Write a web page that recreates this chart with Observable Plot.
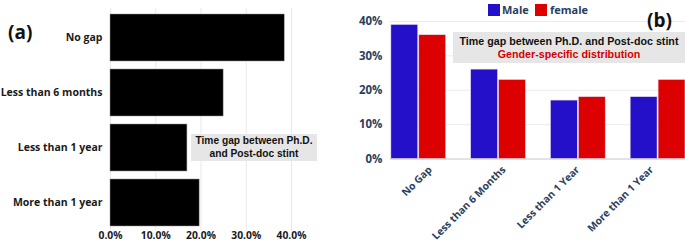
<!DOCTYPE html>
<html>
<head>
<meta charset="utf-8">
<script src="https://cdn.jsdelivr.net/npm/d3@7"></script>
<script src="https://cdn.jsdelivr.net/npm/@observablehq/plot@0.6"></script>
<style>
  html, body { margin: 0; padding: 0; background: #fff; }
  #wrap { position: relative; width: 685px; height: 241px; overflow: hidden; background: #fff; }
  .panel { position: absolute; top: 0; }
  .tag { position: absolute; font-family: "Open Sans", sans-serif; font-weight: bold; font-size: 19px; color: #111; line-height: 1; }
  .note { position: absolute; background: #e6e6e6; font-family: Arial, "Liberation Sans", sans-serif; font-weight: bold; line-height: 12.5px; text-align: center; color: #111; white-space: nowrap; }
  .leg { position: absolute; font-family: "Open Sans", sans-serif; font-weight: bold; font-size: 11px; color: #2a3f5f; line-height: 1; }
  .sw { position: absolute; width: 12px; height: 12px; }
</style>
</head>
<body>
<div id="wrap">
  <div id="left" class="panel" style="left:0"></div>
  <div id="rightBase" class="panel" style="left:340px"></div>
  <div id="rightBars" class="panel" style="left:340px; pointer-events:none"></div>
  <div class="tag" style="left:8px; top:23px">(a)</div>
  <div class="tag" style="left:647px; top:11px">(b)</div>
  <div class="note" id="noteA" style="left:191px; top:134px; width:126px; height:27px; padding-top:1px; box-sizing:border-box; font-size:10.2px"></div>
  <div class="note" id="noteB" style="left:453px; top:32px; width:232px; height:31px; padding-top:3px; box-sizing:border-box; font-size:10.7px"></div>
  <div class="sw" id="sw0" style="left:488px; top:4px"></div>
  <div class="leg" id="lg0" style="left:502px; top:4px"></div>
  <div class="sw" id="sw1" style="left:535px; top:4px"></div>
  <div class="leg" id="lg1" style="left:550px; top:4px"></div>
</div>
<script>
// ---- Panel (a) data ----
const gapCategories = ["No gap", "Less than 6 months", "Less than 1 year", "More than 1 year"];
const gapShare = [0.385, 0.25, 0.17, 0.197];
const gapTicks = [0, 0.1, 0.2, 0.3, 0.4];
const noteAText = ["Time gap between Ph.D.", "and Post-doc stint"];

// ---- Panel (b) data ----
const genderCategories = ["No Gap", "Less than 6 Months", "Less than 1 Year", "More than 1 Year"];
const genders = ["Male", "female"];
const maleShare = [0.39, 0.26, 0.17, 0.18];
const femaleShare = [0.36, 0.23, 0.18, 0.23];
const genderColors = ["#2410c8", "#dc0000"];
const genderTicks = [0, 0.1, 0.2, 0.3, 0.4];
const noteBTitle = "Time gap between Ph.D. and Post-doc stint";
const noteBSub = "Gender-specific distribution";

// ---- Panel (a) ----
const dataA = gapCategories.map((c, i) => ({cat: c, value: gapShare[i]}));
const plotA = Plot.plot({
  width: 340, height: 241,
  marginLeft: 110, marginRight: 49, marginTop: 8, marginBottom: 10,
  style: {fontFamily: "Open Sans, sans-serif", fontSize: "10.5px", fontWeight: "bold", color: "#1a1a1a", background: "transparent", overflow: "visible"},
  x: {domain: [0, 0.4], label: null},
  y: {domain: gapCategories, paddingInner: 0.15, paddingOuter: 0.075, label: null},
  marks: [
    Plot.gridX(gapTicks, {stroke: "#e9e9e9", strokeOpacity: 1}),
    Plot.barX(dataA, {x: "value", y: "cat", fill: "#000", stroke: "#999", strokeWidth: 0.5}),
    Plot.axisX(gapTicks, {tickSize: 0, tickPadding: 0, fontSize: 10.3, tickFormat: d3.format(".1%"), label: null}),
    Plot.axisY({tickSize: 0, tickPadding: 8, label: null})
  ]
});
document.getElementById("left").appendChild(plotA);

// ---- Panel (b) base: grid + axes ----
const baseB = Plot.plot({
  width: 346, height: 241,
  marginLeft: 50, marginRight: 0, marginTop: 21, marginBottom: 82,
  style: {fontFamily: "Open Sans, sans-serif", fontSize: "11.5px", fontWeight: "bold", color: "#2a3f5f", background: "transparent", overflow: "visible"},
  x: {domain: genderCategories, paddingInner: 0.3, paddingOuter: 0, label: null, axis: null},
  y: {domain: [0, 0.4], label: null},
  marks: [
    Plot.gridY(genderTicks, {stroke: "#ebebeb", strokeOpacity: 1}),
    Plot.ruleY([0], {stroke: "#d0d0d0"}),
    Plot.axisY(genderTicks, {tickSize: 0, tickPadding: 8, tickFormat: d3.format(".0%"), label: null}),
    Plot.text(genderCategories, {
      x: d => d, frameAnchor: "bottom", rotate: -45,
      textAnchor: "end", lineAnchor: "middle", dx: 3, dy: 9,
      fontSize: 10.3, fontWeight: "bold", fill: "#2a3f5f"
    })
  ]
});
document.getElementById("rightBase").appendChild(baseB);

// ---- Panel (b) bars (faceted grouped bars) ----
const dataB = [];
genderCategories.forEach((c, i) => {
  dataB.push({cat: c, gender: genders[0], value: maleShare[i]});
  dataB.push({cat: c, gender: genders[1], value: femaleShare[i]});
});
const barsB = Plot.plot({
  width: 346, height: 241,
  marginLeft: 50, marginRight: 0, marginTop: 21, marginBottom: 82,
  style: {background: "transparent", overflow: "visible"},
  fx: {domain: genderCategories, paddingInner: 0.3, paddingOuter: 0, axis: null, label: null},
  x: {domain: genders, paddingInner: 0.05, paddingOuter: 0, axis: null},
  y: {domain: [0, 0.4], axis: null},
  color: {domain: genders, range: genderColors},
  marks: [
    Plot.barY(dataB, {fx: "cat", x: "gender", y: "value", fill: "gender", stroke: "#e8e0f0", strokeWidth: 0.6})
  ]
});
document.getElementById("rightBars").appendChild(barsB);

// ---- annotations & legend ----
document.getElementById("noteA").innerHTML = noteAText.join("<br>");
document.getElementById("noteB").innerHTML = noteBTitle + "<br><span style='color:#d40000'>" + noteBSub + "</span>";
document.getElementById("sw0").style.background = genderColors[0];
document.getElementById("sw1").style.background = genderColors[1];
document.getElementById("lg0").textContent = genders[0];
document.getElementById("lg1").textContent = genders[1];
</script>
</body>
</html>
